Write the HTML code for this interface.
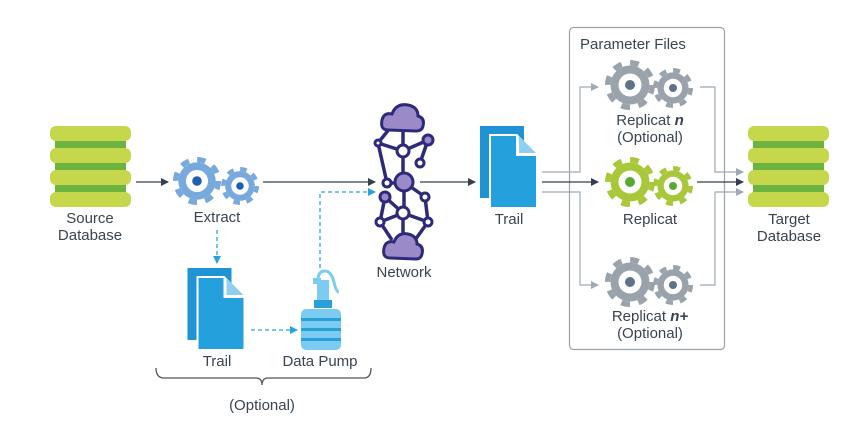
<!DOCTYPE html>
<html><head><meta charset="utf-8"><style>
body{margin:0;background:#fff}
svg{display:block}
text{font-family:"Liberation Sans",sans-serif;font-size:15px;fill:#3a4450;text-anchor:middle}
</style></head><body>
<svg width="841" height="422" viewBox="0 0 841 422" xmlns="http://www.w3.org/2000/svg">
<defs>
<symbol id="gb" viewBox="-1 -1 2 2"><circle r=".78" fill="#78a9dc"/><circle r=".89" fill="none" stroke="#78a9dc" stroke-width=".22" stroke-dasharray=".35 .349"/><circle r=".46" fill="#fff"/><circle r=".2" fill="#1f5fae"/></symbol>
<symbol id="gg" viewBox="-1 -1 2 2"><circle r=".78" fill="#9aa3ab"/><circle r=".89" fill="none" stroke="#9aa3ab" stroke-width=".22" stroke-dasharray=".35 .349"/><circle r=".46" fill="#fff"/><circle r=".2" fill="#5e7388"/></symbol>
<symbol id="gl" viewBox="-1 -1 2 2"><circle r=".78" fill="#a8c83a"/><circle r=".89" fill="none" stroke="#a8c83a" stroke-width=".22" stroke-dasharray=".35 .349"/><circle r=".46" fill="#fff"/><circle r=".2" fill="#5aaa32"/></symbol>
<symbol id="db" viewBox="0 0 81 81"><rect x="5" y="10" width="71" height="64" fill="#6db33f"/><rect x="0" y="0" width="81" height="15" rx="6" fill="#c6d74c"/><rect x="0" y="22" width="81" height="15" rx="6" fill="#c6d74c"/><rect x="0" y="44" width="81" height="15" rx="6" fill="#c6d74c"/><rect x="0" y="66" width="81" height="15" rx="6" fill="#c6d74c"/></symbol>
<symbol id="doc" viewBox="0 0 58 81"><rect x="0" y="0" width="44" height="72" fill="#1f93d3"/><path d="M9 8 H37 L58 29 V81 H9 Z" fill="#fff"/><path d="M11 10 H36 V30 H56 V81 H11 Z" fill="#24a1dc"/><path d="M39 10 L56 27 H39 Z" fill="#8fd0ef"/></symbol>
<marker id="ad" markerWidth="8" markerHeight="8" refX="7" refY="4" orient="auto" markerUnits="userSpaceOnUse"><path d="M0 0 L8 4 L0 8 Z" fill="#34404c"/></marker>
<marker id="ab" markerWidth="8" markerHeight="8" refX="7" refY="4" orient="auto" markerUnits="userSpaceOnUse"><path d="M0 0 L8 4 L0 8 Z" fill="#29a3dd"/></marker>
<marker id="ag" markerWidth="8" markerHeight="8" refX="7" refY="4" orient="auto" markerUnits="userSpaceOnUse"><path d="M0 0 L8 4 L0 8 Z" fill="#9eaab4"/></marker>
</defs>

<use href="#db" x="50" y="126" width="81" height="81"/>
<text x="90" y="223">Source</text><text x="90" y="240">Database</text>
<line x1="136" y1="182" x2="168" y2="182" stroke="#34404c" stroke-width="1.3" marker-end="url(#ad)"/>

<use href="#gb" x="173" y="157" width="48" height="48"/>
<use href="#gb" x="221" y="167" width="38" height="38"/>
<text x="217" y="222">Extract</text>
<line x1="263" y1="182" x2="375" y2="182" stroke="#34404c" stroke-width="1.3" marker-end="url(#ad)"/>

<line x1="217" y1="230" x2="217" y2="263" stroke="#29a3dd" stroke-width="1.3" stroke-dasharray="4 3" marker-end="url(#ab)"/>
<use href="#doc" x="187" y="268" width="59" height="81"/>
<text x="217" y="366">Trail</text>
<line x1="251" y1="330" x2="297" y2="330" stroke="#29a3dd" stroke-width="1.3" stroke-dasharray="4 3" marker-end="url(#ab)"/>

<rect x="301" y="309" width="40" height="41" rx="5" fill="#7ccbf0"/>
<rect x="301" y="318" width="40" height="3" fill="#2a9fd8"/><rect x="301" y="328" width="40" height="3" fill="#2a9fd8"/><rect x="301" y="338" width="40" height="3" fill="#2a9fd8"/>
<rect x="314" y="300" width="18" height="8" fill="#2a9fd8"/>
<rect x="317" y="280" width="12" height="20" fill="#7ccbf0"/>
<rect x="313" y="278" width="8" height="6" fill="#7ccbf0"/>
<path d="M318 280 Q318 271 325 271 Q331 271 334 282 Q336 292 339 292" fill="none" stroke="#7ccbf0" stroke-width="3"/>
<text x="320" y="366">Data Pump</text>
<path d="M320 268 V192 H375" fill="none" stroke="#29a3dd" stroke-width="1.3" stroke-dasharray="4 3" marker-end="url(#ab)"/>

<path d="M156 368 Q156 378 164 378 H256 Q262 378 262 385 Q262 378 268 378 H364 Q371 378 371 368" fill="none" stroke="#555" stroke-width="1.3"/>
<text x="262" y="410">(Optional)</text>

<g stroke="#2e2a7a" stroke-width="3.5" fill="none">
<path d="M390 128 L378 143 L403 151 L428 140 M403 128 V151 M428 140 L420 163 M378 143 L387 183 M403 151 V182 M387 183 H404 M404 182 L425 197 M404 182 V213 M385 197 L403 213 M385 197 L380 222 M403 213 L380 222 M403 213 L428 222 M425 197 L428 222 M428 222 L415 240 M403 213 V238 M380 222 L392 240"/>
</g>
<path d="M388 130 Q380 130 382 120 Q384 112 392 114 Q396 103 408 105 Q418 107 418 116 Q425 118 423 126 Q422 131 416 131 Z" fill="#9b8ac8" stroke="#2e2a7a" stroke-width="3"/>
<path d="M390 258 Q382 258 384 248 Q386 240 394 242 Q398 232 408 234 Q417 236 417 244 Q424 246 422 254 Q421 259 416 259 Z" fill="#9b8ac8" stroke="#2e2a7a" stroke-width="3"/>
<g stroke="#2e2a7a" stroke-width="3">
<circle cx="403" cy="151" r="6" fill="#fff"/><circle cx="428" cy="140" r="5" fill="#9b8ac8"/><circle cx="378" cy="143" r="3" fill="#fff"/>
<circle cx="420" cy="163" r="4" fill="#fff"/><circle cx="404" cy="182" r="9" fill="#9b8ac8"/><circle cx="387" cy="183" r="4" fill="#fff"/>
<circle cx="385" cy="197" r="5" fill="#9b8ac8"/><circle cx="425" cy="197" r="4" fill="#fff"/><circle cx="403" cy="213" r="6" fill="#fff"/>
<circle cx="380" cy="222" r="4" fill="#fff"/><circle cx="428" cy="222" r="4" fill="#fff"/>
</g>
<text x="404" y="277">Network</text>
<line x1="420" y1="182" x2="475" y2="182" stroke="#34404c" stroke-width="1.3" marker-end="url(#ad)"/>

<use href="#doc" x="480" y="126" width="58" height="81"/>
<text x="509" y="224">Trail</text>

<rect x="569.5" y="27.5" width="155" height="322" rx="4" fill="none" stroke="#9aa3ab" stroke-width="1.2"/>
<text x="580" y="49" style="text-anchor:start">Parameter Files</text>

<path d="M542 172 H580 V87 H598" fill="none" stroke="#9eaab4" stroke-width="1.2" marker-end="url(#ag)"/>
<path d="M542 192 H580 V285 H598" fill="none" stroke="#9eaab4" stroke-width="1.2" marker-end="url(#ag)"/>
<line x1="542" y1="182" x2="598" y2="182" stroke="#34404c" stroke-width="1.3" marker-end="url(#ad)"/>
<path d="M700 87 H715 V172 H743" fill="none" stroke="#9eaab4" stroke-width="1.2" marker-end="url(#ag)"/>
<path d="M700 285 H715 V192 H743" fill="none" stroke="#9eaab4" stroke-width="1.2" marker-end="url(#ag)"/>
<line x1="697" y1="182" x2="743" y2="182" stroke="#34404c" stroke-width="1.3" marker-end="url(#ad)"/>

<use href="#gg" x="605" y="60" width="50" height="50"/><use href="#gg" x="653" y="68" width="40" height="40"/>
<text x="650" y="125">Replicat <tspan font-weight="bold" font-style="italic">n</tspan></text><text x="650" y="142">(Optional)</text>
<use href="#gl" x="605" y="157" width="50" height="50"/><use href="#gl" x="653" y="166" width="40" height="40"/>
<text x="650" y="224">Replicat</text>
<use href="#gg" x="605" y="257" width="50" height="50"/><use href="#gg" x="653" y="265" width="40" height="40"/>
<text x="650" y="321">Replicat <tspan font-weight="bold" font-style="italic">n+</tspan></text><text x="650" y="338">(Optional)</text>

<use href="#db" x="748" y="126" width="81" height="81"/>
<text x="789" y="224">Target</text><text x="789" y="241">Database</text>
</svg>
</body></html>
